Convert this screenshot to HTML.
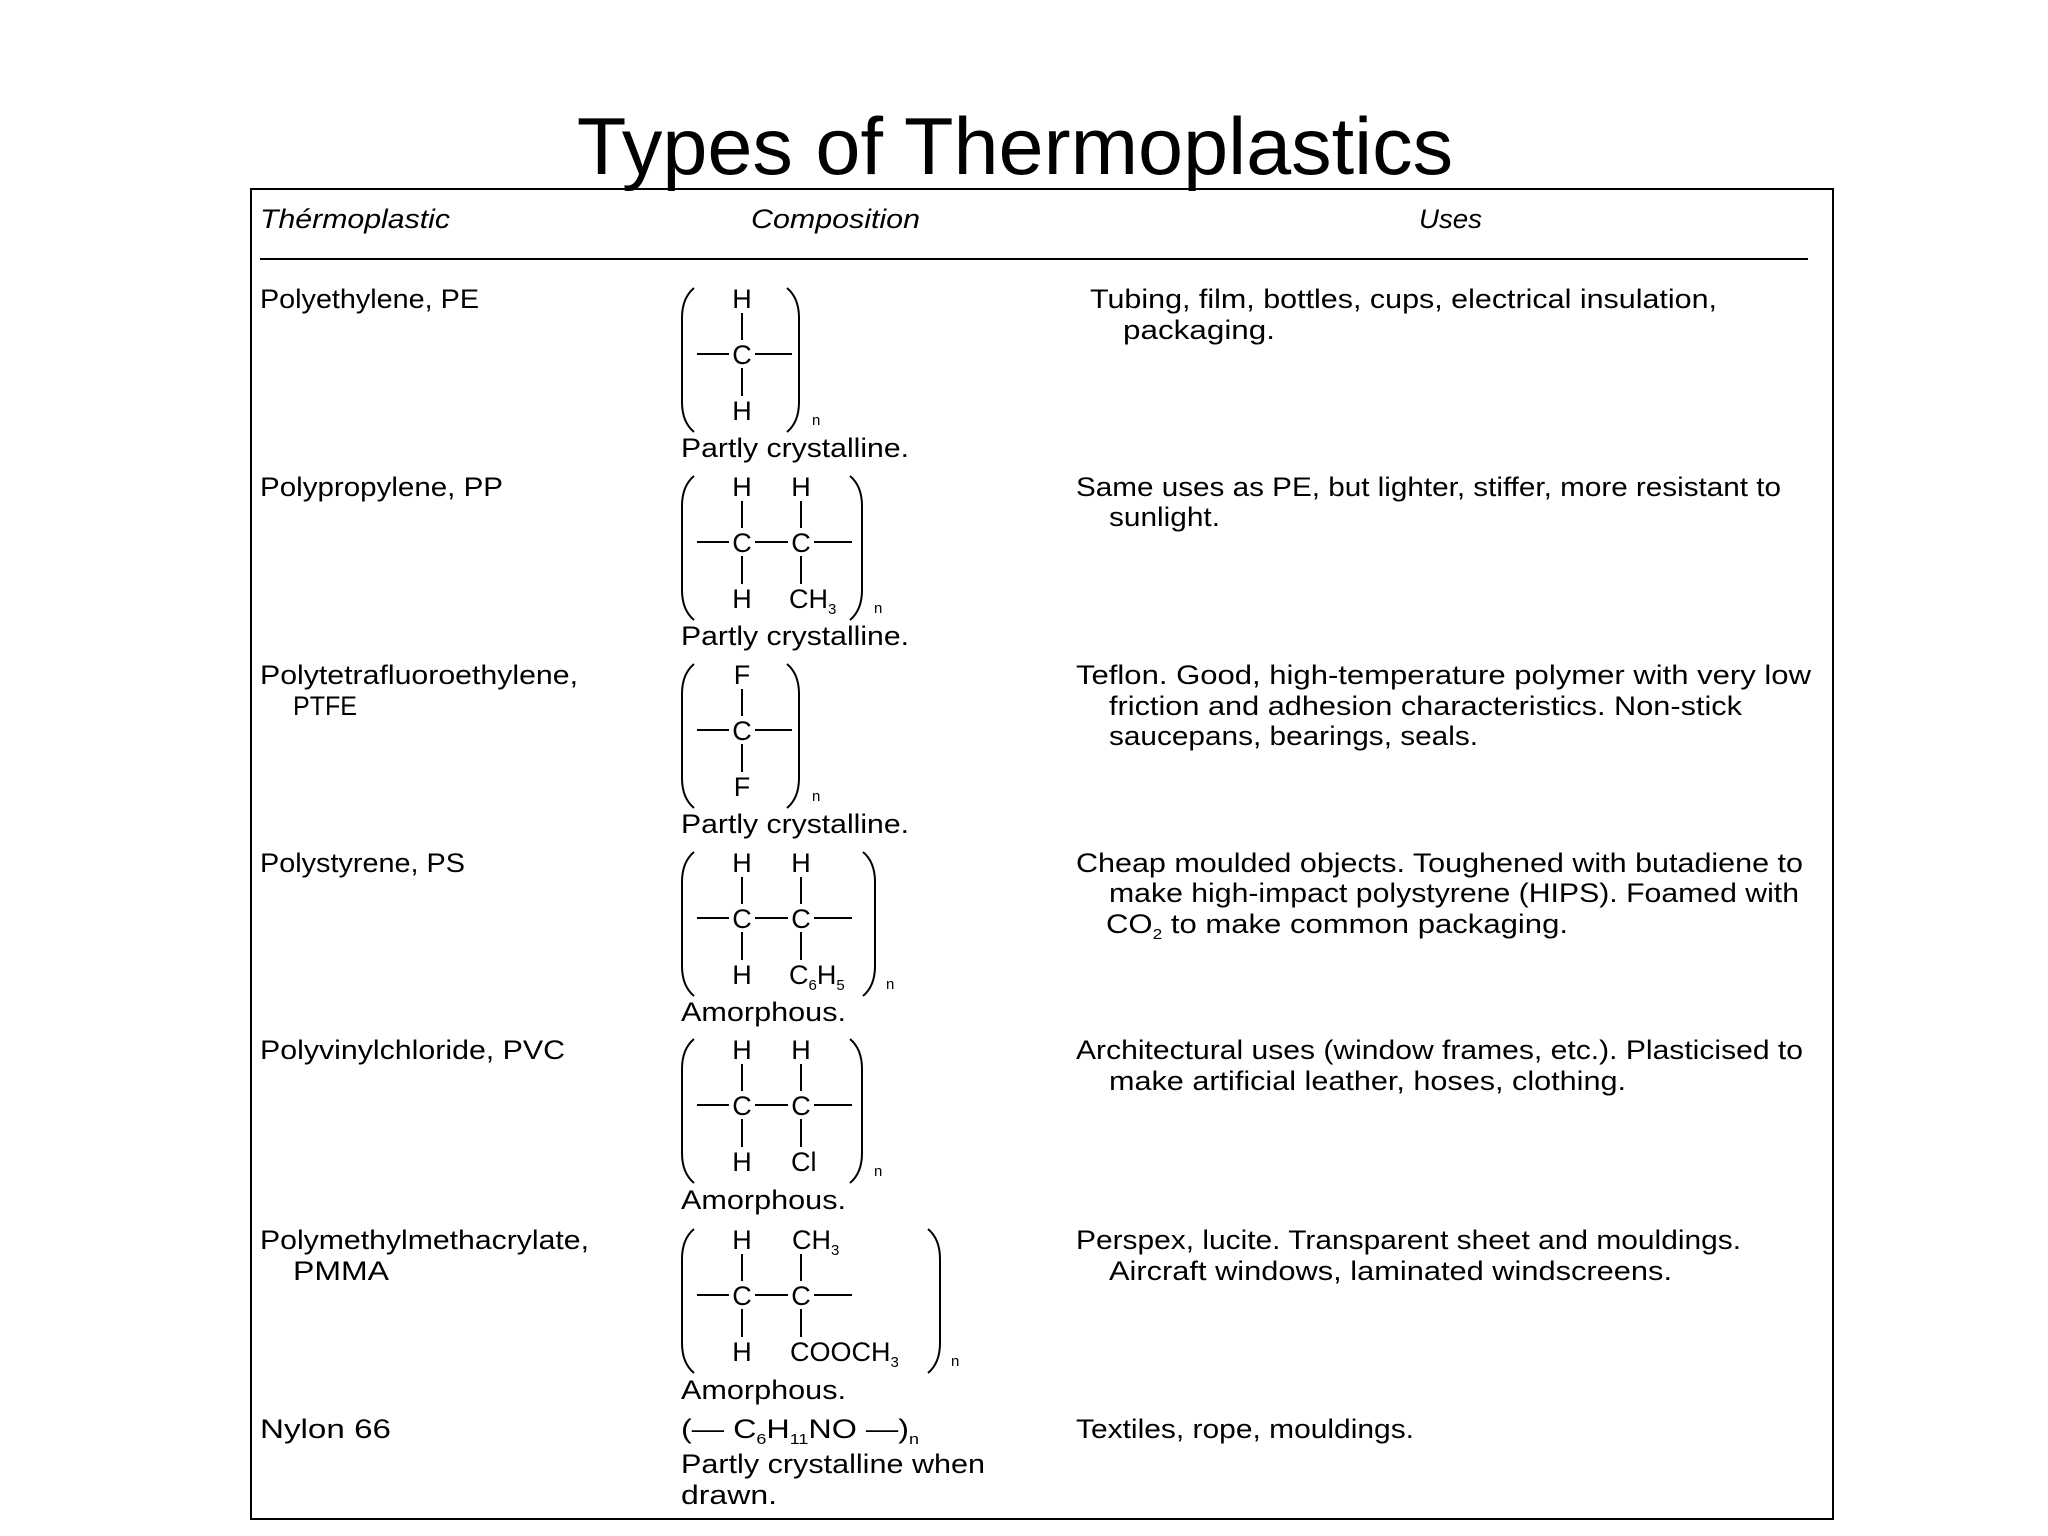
<!DOCTYPE html>
<html><head><meta charset="utf-8"><style>
html,body{margin:0;padding:0;background:#fff;}
svg{display:block;}
text{font-family:"Liberation Sans",sans-serif;fill:#000;}
.t{font-size:27px;}
.n{font-size:15px;}
</style></head><body>
<svg width="2048" height="1536" viewBox="0 0 2048 1536" xmlns="http://www.w3.org/2000/svg">
<text x="1015" y="174" font-size="81" text-anchor="middle">Types of Thermoplastics</text>
<rect x="251" y="189" width="1582" height="1330" fill="none" stroke="#000" stroke-width="2"/>
<line x1="260" y1="259" x2="1808" y2="259" stroke="#000" stroke-width="2"/>
<g class="t" font-style="italic">
<text x="260" y="228" textLength="190" lengthAdjust="spacingAndGlyphs">Thérmoplastic</text>
<text x="751" y="228" textLength="169" lengthAdjust="spacingAndGlyphs">Composition</text>
<text x="1419" y="228" textLength="63" lengthAdjust="spacingAndGlyphs">Uses</text>
</g>
<g class="t">
<text x="260" y="308" textLength="219" lengthAdjust="spacingAndGlyphs">Polyethylene, PE</text>
<text x="260" y="496" textLength="243" lengthAdjust="spacingAndGlyphs">Polypropylene, PP</text>
<text x="260" y="684" textLength="318" lengthAdjust="spacingAndGlyphs">Polytetrafluoroethylene,</text>
<text x="293" y="715" textLength="64" lengthAdjust="spacingAndGlyphs">PTFE</text>
<text x="260" y="872" textLength="205" lengthAdjust="spacingAndGlyphs">Polystyrene, PS</text>
<text x="260" y="1059" textLength="305" lengthAdjust="spacingAndGlyphs">Polyvinylchloride, PVC</text>
<text x="260" y="1249" textLength="329" lengthAdjust="spacingAndGlyphs">Polymethylmethacrylate,</text>
<text x="293" y="1280" textLength="96" lengthAdjust="spacingAndGlyphs">PMMA</text>
<text x="260" y="1438" textLength="131" lengthAdjust="spacingAndGlyphs">Nylon 66</text>

<text x="681" y="457" textLength="228" lengthAdjust="spacingAndGlyphs">Partly crystalline.</text>
<text x="681" y="645" textLength="228" lengthAdjust="spacingAndGlyphs">Partly crystalline.</text>
<text x="681" y="833" textLength="228" lengthAdjust="spacingAndGlyphs">Partly crystalline.</text>
<text x="681" y="1021" textLength="165" lengthAdjust="spacingAndGlyphs">Amorphous.</text>
<text x="681" y="1209" textLength="165" lengthAdjust="spacingAndGlyphs">Amorphous.</text>
<text x="681" y="1399" textLength="165" lengthAdjust="spacingAndGlyphs">Amorphous.</text>
<text x="681" y="1438" textLength="238" lengthAdjust="spacingAndGlyphs">(— C<tspan class="n" dy="6">6</tspan><tspan dy="-6">H</tspan><tspan class="n" dy="6">11</tspan><tspan dy="-6">NO —)</tspan><tspan class="n" dy="6">n</tspan></text>
<text x="681" y="1473" textLength="304" lengthAdjust="spacingAndGlyphs">Partly crystalline when</text>
<text x="681" y="1504" textLength="96" lengthAdjust="spacingAndGlyphs">drawn.</text>

<text x="1090" y="308" textLength="627" lengthAdjust="spacingAndGlyphs">Tubing, film, bottles, cups, electrical insulation,</text>
<text x="1123" y="339" textLength="152" lengthAdjust="spacingAndGlyphs">packaging.</text>
<text x="1076" y="496" textLength="705" lengthAdjust="spacingAndGlyphs">Same uses as PE, but lighter, stiffer, more resistant to</text>
<text x="1109" y="526" textLength="111" lengthAdjust="spacingAndGlyphs">sunlight.</text>
<text x="1076" y="684" textLength="735" lengthAdjust="spacingAndGlyphs">Teflon. Good, high-temperature polymer with very low</text>
<text x="1109" y="715" textLength="633" lengthAdjust="spacingAndGlyphs">friction and adhesion characteristics. Non-stick</text>
<text x="1109" y="745" textLength="369" lengthAdjust="spacingAndGlyphs">saucepans, bearings, seals.</text>
<text x="1076" y="872" textLength="727" lengthAdjust="spacingAndGlyphs">Cheap moulded objects. Toughened with butadiene to</text>
<text x="1109" y="902" textLength="690" lengthAdjust="spacingAndGlyphs">make high-impact polystyrene (HIPS). Foamed with</text>
<text x="1106" y="933" textLength="462" lengthAdjust="spacingAndGlyphs">CO<tspan class="n" dy="6">2</tspan><tspan dy="-6"> to make common packaging.</tspan></text>
<text x="1076" y="1059" textLength="727" lengthAdjust="spacingAndGlyphs">Architectural uses (window frames, etc.). Plasticised to</text>
<text x="1109" y="1090" textLength="517" lengthAdjust="spacingAndGlyphs">make artificial leather, hoses, clothing.</text>
<text x="1076" y="1249" textLength="665" lengthAdjust="spacingAndGlyphs">Perspex, lucite. Transparent sheet and mouldings.</text>
<text x="1109" y="1280" textLength="563" lengthAdjust="spacingAndGlyphs">Aircraft windows, laminated windscreens.</text>
<text x="1076" y="1438" textLength="338" lengthAdjust="spacingAndGlyphs">Textiles, rope, mouldings.</text>
</g>

<g stroke="#000" stroke-width="2" fill="none">
<g transform="translate(0,298)">
<line x1="742" y1="15" x2="742" y2="42"/><line x1="742" y1="70" x2="742" y2="98"/>
<line x1="697" y1="56" x2="729" y2="56"/><line x1="755" y1="56" x2="792" y2="56"/>
<path d="M694,-10 Q682,0 682,20 L682,104 Q682,124 694,134"/>
<path d="M787,-10 Q799,0 799,20 L799,104 Q799,124 787,134"/>
</g>
<g transform="translate(0,674)">
<line x1="742" y1="15" x2="742" y2="42"/><line x1="742" y1="70" x2="742" y2="98"/>
<line x1="697" y1="56" x2="729" y2="56"/><line x1="755" y1="56" x2="792" y2="56"/>
<path d="M694,-10 Q682,0 682,20 L682,104 Q682,124 694,134"/>
<path d="M787,-10 Q799,0 799,20 L799,104 Q799,124 787,134"/>
</g>
<g transform="translate(0,486)">
<line x1="742" y1="15" x2="742" y2="42"/><line x1="742" y1="70" x2="742" y2="98"/>
<line x1="801" y1="15" x2="801" y2="42"/><line x1="801" y1="70" x2="801" y2="98"/>
<line x1="697" y1="56" x2="729" y2="56"/><line x1="755" y1="56" x2="788" y2="56"/><line x1="814" y1="56" x2="852" y2="56"/>
<path d="M694,-10 Q682,0 682,20 L682,104 Q682,124 694,134"/>
<path d="M850,-10 Q862,0 862,20 L862,104 Q862,124 850,134"/>
</g>
<g transform="translate(0,862)">
<line x1="742" y1="15" x2="742" y2="42"/><line x1="742" y1="70" x2="742" y2="98"/>
<line x1="801" y1="15" x2="801" y2="42"/><line x1="801" y1="70" x2="801" y2="98"/>
<line x1="697" y1="56" x2="729" y2="56"/><line x1="755" y1="56" x2="788" y2="56"/><line x1="814" y1="56" x2="852" y2="56"/>
<path d="M694,-10 Q682,0 682,20 L682,104 Q682,124 694,134"/>
<path d="M863,-10 Q875,0 875,20 L875,104 Q875,124 863,134"/>
</g>
<g transform="translate(0,1049)">
<line x1="742" y1="15" x2="742" y2="42"/><line x1="742" y1="70" x2="742" y2="98"/>
<line x1="801" y1="15" x2="801" y2="42"/><line x1="801" y1="70" x2="801" y2="98"/>
<line x1="697" y1="56" x2="729" y2="56"/><line x1="755" y1="56" x2="788" y2="56"/><line x1="814" y1="56" x2="852" y2="56"/>
<path d="M694,-10 Q682,0 682,20 L682,104 Q682,124 694,134"/>
<path d="M850,-10 Q862,0 862,20 L862,104 Q862,124 850,134"/>
</g>
<g transform="translate(0,1239)">
<line x1="742" y1="15" x2="742" y2="42"/><line x1="742" y1="70" x2="742" y2="98"/>
<line x1="801" y1="15" x2="801" y2="42"/><line x1="801" y1="70" x2="801" y2="98"/>
<line x1="697" y1="56" x2="729" y2="56"/><line x1="755" y1="56" x2="788" y2="56"/><line x1="814" y1="56" x2="852" y2="56"/>
<path d="M694,-10 Q682,0 682,20 L682,104 Q682,124 694,134"/>
<path d="M928,-10 Q940,0 940,20 L940,104 Q940,124 928,134"/>
</g>
</g>
<g class="t" text-anchor="middle">
<text x="742" y="308">H</text><text x="742" y="364">C</text><text x="742" y="420">H</text>
<text x="742" y="684">F</text><text x="742" y="740">C</text><text x="742" y="796">F</text>
<text x="742" y="496">H</text><text x="801" y="496">H</text><text x="742" y="552">C</text><text x="801" y="552">C</text><text x="742" y="608">H</text>
<text x="742" y="872">H</text><text x="801" y="872">H</text><text x="742" y="928">C</text><text x="801" y="928">C</text><text x="742" y="984">H</text>
<text x="742" y="1059">H</text><text x="801" y="1059">H</text><text x="742" y="1115">C</text><text x="801" y="1115">C</text><text x="742" y="1171">H</text>
<text x="742" y="1249">H</text><text x="742" y="1305">C</text><text x="801" y="1305">C</text><text x="742" y="1361">H</text>
</g>
<g class="t">
<text x="789" y="608">CH<tspan class="n" dy="6">3</tspan></text>
<text x="789" y="984">C<tspan class="n" dy="6">6</tspan><tspan dy="-6">H</tspan><tspan class="n" dy="6">5</tspan></text>
<text x="791" y="1171">Cl</text>
<text x="792" y="1249">CH<tspan class="n" dy="6">3</tspan></text>
<text x="790" y="1361">COOCH<tspan class="n" dy="6">3</tspan></text>
</g>
<g class="n">
<text x="812" y="425">n</text>
<text x="874" y="613">n</text>
<text x="812" y="801">n</text>
<text x="886" y="989">n</text>
<text x="874" y="1176">n</text>
<text x="951" y="1366">n</text>
</g>
</svg>
</body></html>
